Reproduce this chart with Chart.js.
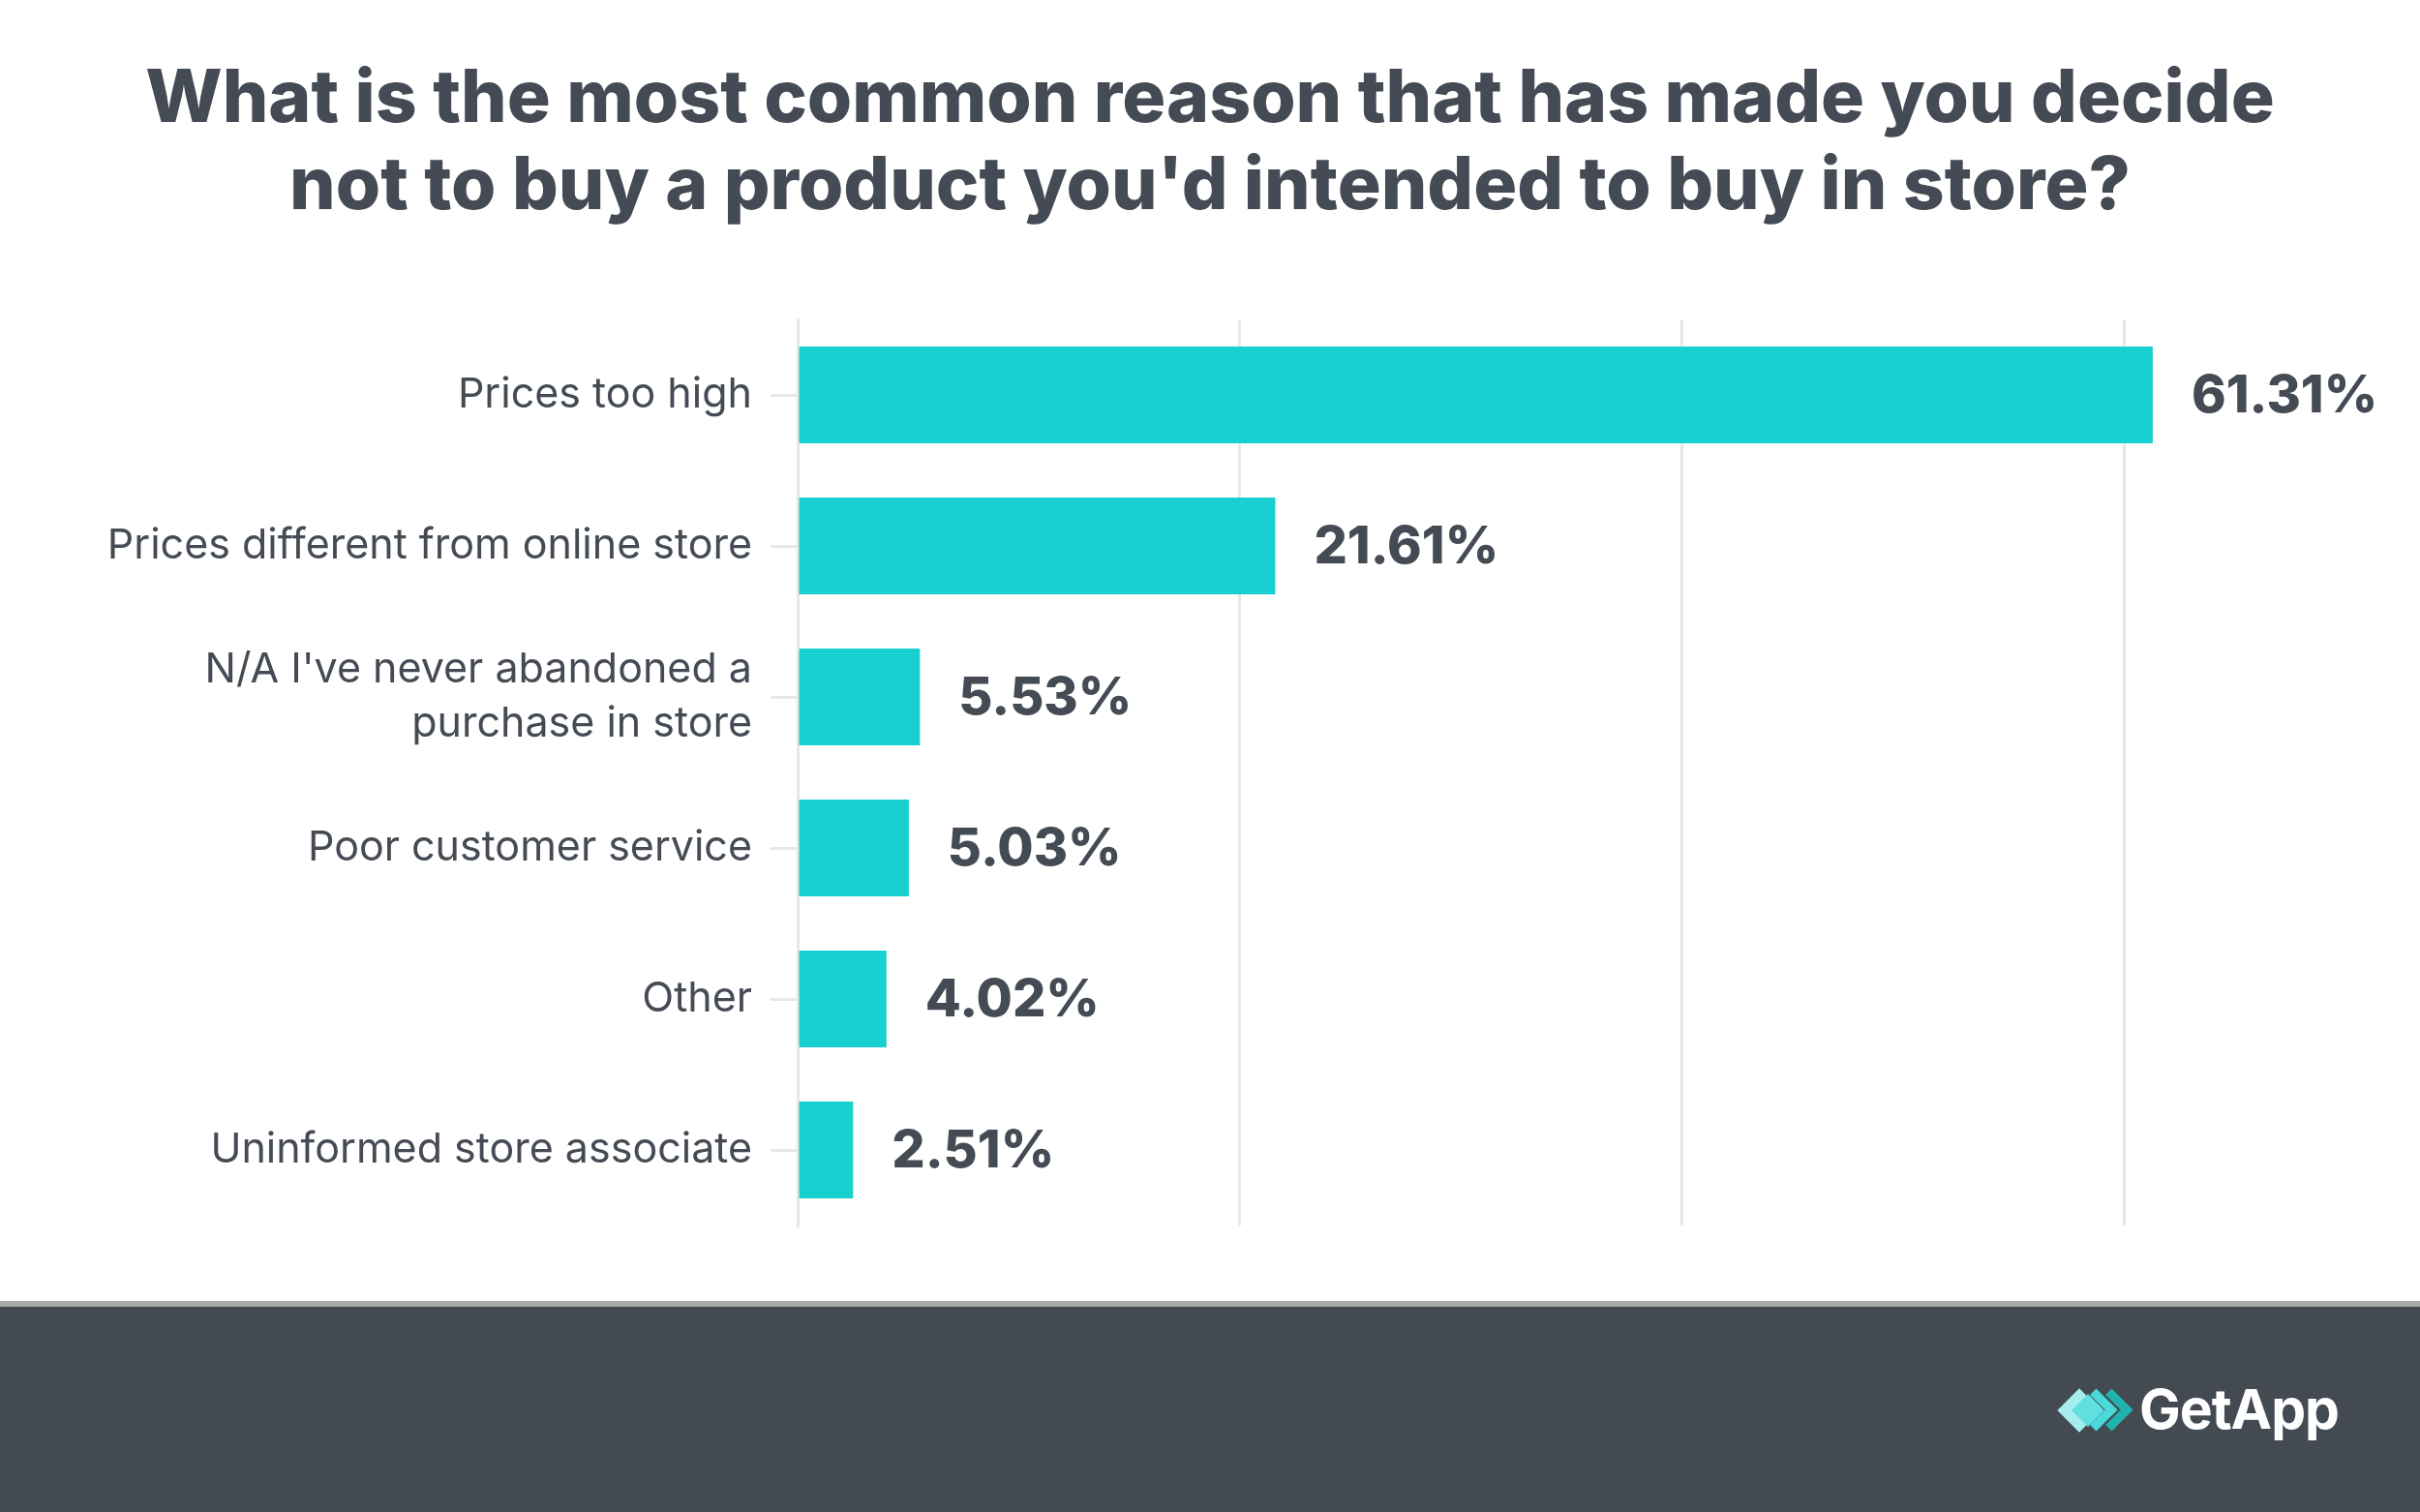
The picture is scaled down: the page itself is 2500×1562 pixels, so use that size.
<!DOCTYPE html>
<html>
<head>
<meta charset="utf-8">
<script src="https://cdn.jsdelivr.net/npm/chart.js@4/dist/chart.umd.min.js"></script>
<style>
    body { margin: 0; background: #ffffff; }
    #chart_container { position: relative; width: 2500px; height: 1344px; }
    #footer {
        position: relative;
        width: 2500px;
        height: 212px;
        background: #444a52;
        border-top: 6px solid #a5aaaa;
    }
    #logo_text {
        position: absolute;
        left: 2210px;
        top: 72px;
        font-family: Inter, Lato, sans-serif;
        font-weight: 700;
        font-size: 57px;
        line-height: 68px;
        color: #ffffff;
        letter-spacing: -1px;
    }
    .diamond { position: absolute; transform: rotate(45deg); }
</style>
</head>
<body>
<div id="chart_container"><canvas id="canvas1"></canvas></div>
<div id="footer">
    <div class="diamond" style="left:2132px; top:91px; width:32px; height:32px; background:#a6eeee;"></div>
    <div class="diamond" style="left:2145px; top:95px; width:24px; height:24px; background:#5fdfdf;"></div>
    <div class="diamond" style="left:2150px; top:91px; width:22px; height:22px; border-top:9px solid #49d9d9; border-right:9px solid #49d9d9;"></div>
    <div class="diamond" style="left:2166px; top:91px; width:22px; height:22px; border-top:9px solid #1fb4ad; border-right:9px solid #1fb4ad;"></div>
    <div id="logo_text">GetApp</div>
</div>
<script>
const title_lines = [
    "What is the most common reason that has made you decide",
    "not to buy a product you'd intended to buy in store?"
]
const categories = [
    "Prices too high",
    "Prices different from online store",
    ["N/A I've never abandoned a", "purchase in store"],
    "Poor customer service",
    "Other",
    "Uninformed store associate"
]
const percent_values = [61.31, 21.61, 5.53, 5.03, 4.02, 2.51]
const grid_values = [0, 20, 40, 60]
// room on the right for the 61.31% label
const axis_max = 73.4

const text_color = '#454b54'
const bar_color = '#19d0d0'
const grid_color = '#e8e8e8'

const valueLabels = {
    id: 'valueLabels',
    afterDatasetsDraw: (chart) => {
        let ctx = chart.ctx
        let meta = chart.getDatasetMeta(0)
        ctx.save()
        ctx.fillStyle = text_color
        ctx.font = '800 54px Inter, Lato, sans-serif'
        ctx.textAlign = 'left'
        ctx.textBaseline = 'middle'
        meta.data.forEach((bar, i) => {
            ctx.fillText(percent_values[i].toFixed(2) + '%', bar.x + 40, bar.y + 2)
        })
        ctx.restore()
    }
}

const generateChart = (canvas_id) => {
    let canvas = document.getElementById(canvas_id)

    new Chart(canvas, {
        type: 'bar',
        data: {
            labels: categories,
            datasets: [
                {
                    data: percent_values,
                    backgroundColor: bar_color,
                    barPercentage: 0.64,
                    categoryPercentage: 1,
                }
            ],
        },
        plugins: [valueLabels],
        options: {
            indexAxis: 'y',
            responsive: true,
            maintainAspectRatio: false,
            animation: false,
            devicePixelRatio: 1,
            layout: {
                padding: { top: 0, left: 0, right: 0, bottom: 78 }
            },
            plugins: {
                legend: { display: false },
                tooltip: { enabled: false },
                title: {
                    display: true,
                    text: title_lines,
                    color: text_color,
                    font: { family: 'Inter, Lato, sans-serif', size: 75, weight: '800', lineHeight: 1.2 },
                    padding: { top: 58, bottom: 92 }
                }
            },
            scales: {
                x: {
                    min: 0,
                    max: axis_max,
                    afterBuildTicks: (scale) => {
                        scale.ticks = grid_values.map(v => ({ value: v }))
                    },
                    ticks: { display: false },
                    border: { display: false },
                    grid: { color: grid_color, lineWidth: 3, drawTicks: false }
                },
                y: {
                    afterFit: (scale) => { scale.width = 824 },
                    ticks: {
                        color: text_color,
                        padding: 19,
                        font: { family: 'Inter, Lato, sans-serif', size: 43, lineHeight: 1.3 }
                    },
                    border: { display: true, color: grid_color, width: 3 },
                    grid: {
                        offset: false,
                        drawOnChartArea: false,
                        drawTicks: true,
                        tickLength: 28,
                        color: grid_color,
                        lineWidth: 3
                    }
                }
            }
        }
    })
}

generateChart('canvas1')
</script>
</body>
</html>
